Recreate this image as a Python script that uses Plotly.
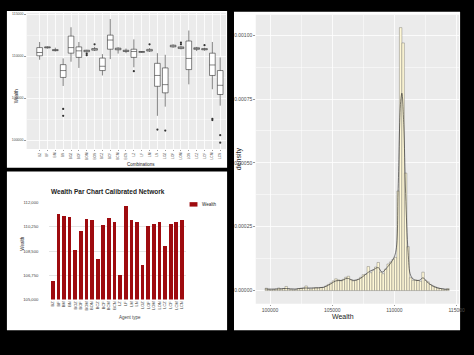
import numpy as np
import plotly.graph_objects as go

W, H = 474, 355

# ---------------- data ----------------
agent_types = ["BZ", "BF", "BM", "BN", "BOZ", "BOF", "BOM", "BON", "BCZ", "BCF", "BCM", "BCN",
               "LZ", "LF", "LM", "LN", "LOZ", "LOF", "LOM", "LON", "LCZ", "LCF", "LCM", "LCN"]
agent_wealth = [106330, 111170, 111020, 110950, 108600, 109950, 110810, 110790, 107930, 110400, 110880, 110640,
                106760, 111760, 110740, 110640, 107520, 110290, 110480, 110640, 108900, 110450, 110600, 110760]

combinations = agent_types
box_upper = [111680, 111150, 111000, 109727, 113437, 111680, 110750, 111100, 110234, 114414, 111050, 110900,
             111992, 110600, 110950, 110352, 110156, 111400, 111200, 113047, 111100, 111000, 111680, 109844]
box_q3 = [111016, 111100, 110780, 108985, 112383, 111094, 110700, 110900, 109766, 112500, 110950, 110700,
          110820, 110550, 110800, 109141, 108594, 111300, 111100, 111797, 111000, 110900, 110352, 108281]
box_median = [110430, 111050, 110700, 108281, 111016, 110625, 110620, 110820, 108789, 111914, 110850, 110620,
              110547, 110500, 110700, 107696, 106602, 111200, 111000, 109727, 110900, 110820, 108945, 106523]
box_q1 = [110039, 110980, 110650, 107461, 110352, 109844, 110520, 110700, 108281, 110820, 110750, 110550,
          109844, 110450, 110600, 106406, 105625, 111100, 110900, 108398, 110800, 110750, 107695, 105430]
box_lower = [109570, 110900, 110550, 106446, 109336, 108594, 110420, 110600, 107695, 109648, 110300, 110350,
             108672, 110400, 110500, 102891, 103984, 111000, 110800, 106641, 110600, 110650, 106055, 104102]
outlier_combo = ["BN", "BN", "BOM", "BOM", "BON", "LZ", "LM", "LN", "LOZ", "LOM", "LOM", "LCF",
                 "LCM", "LCM", "LCN", "LCN"]
outlier_wealth = [103712, 102891, 110313, 110117, 111400, 108203, 111400, 101250, 101133, 111600, 111400, 111300,
                  102539, 102383, 100586, 99688]

hist_bin_width = 200
hist_first_center = 99700
hist_density = [
    0.000009, 0.000004, 0.000003, 0.000004, 0.000006, 0.000010, 0.000005, 0.000008, 0.000016, 0.000006,
    0.000004, 0.000003, 0.000004, 0.000008, 0.000009, 0.000010, 0.000018, 0.000008, 0.000006, 0.000010,
    0.000012, 0.000011, 0.000012, 0.000012, 0.000018, 0.000024, 0.000030, 0.000038, 0.000046, 0.000042,
    0.000038, 0.000044, 0.000052, 0.000056, 0.000042, 0.000038, 0.000040, 0.000044, 0.000052, 0.000062,
    0.000064, 0.000094, 0.000070, 0.000078, 0.000092, 0.000110, 0.000072, 0.000066, 0.000084, 0.000104,
    0.000112, 0.000122, 0.000130, 0.000390, 0.001030, 0.000970, 0.000460, 0.000172, 0.000050, 0.000040,
    0.000042, 0.000040, 0.000036, 0.000072, 0.000040, 0.000034, 0.000024, 0.000018, 0.000014, 0.000010,
    0.000008, 0.000006, 0.000004, 0.000008]
hist_centers = hist_first_center + hist_bin_width * np.arange(len(hist_density))

kde_wealth = [99600, 100500, 101300, 102000, 102800, 103500, 104300, 104800, 105300, 105800, 106200, 106700,
              107200, 107700, 108000, 108400, 108700, 109000, 109400, 109800, 110100, 110300, 110500, 110600,
              110750, 110900, 111100, 111300, 111600, 112000, 112300, 112600, 113000, 113500, 114000, 114400]
kde_density = [0.000006, 0.000006, 0.000008, 0.000006, 0.000010, 0.000010, 0.000013, 0.000024, 0.000038,
               0.000040, 0.000048, 0.000040, 0.000046, 0.000064, 0.000075, 0.000084, 0.000090, 0.000072,
               0.000090, 0.000115, 0.000150, 0.000400, 0.000740, 0.000773, 0.000650, 0.000380, 0.000150,
               0.000060, 0.000042, 0.000040, 0.000050, 0.000035, 0.000020, 0.000010, 0.000006, 0.000004]

# ---------------- helpers ----------------
def px(x):
    return x / W

def py(y):
    return 1 - y / H

GG_BG = "#EBEBEB"
GG_TXT = "#4D4D4D"
FONT = "Liberation Sans, Arial, sans-serif"

fig = go.Figure()

# Box plot (top-left)
fig.add_trace(go.Box(
    x=combinations, q1=box_q1, median=box_median, q3=box_q3,
    lowerfence=box_lower, upperfence=box_upper,
    boxpoints=False, fillcolor="white", line=dict(color="#333333", width=0.6),
    whiskerwidth=0, width=0.72, xaxis="x", yaxis="y", showlegend=False, hoverinfo="skip"))
fig.add_trace(go.Scatter(
    x=outlier_combo, y=outlier_wealth, mode="markers",
    marker=dict(color="#333333", size=2.2), xaxis="x", yaxis="y", showlegend=False))

# Bar chart (bottom-left)
fig.add_trace(go.Bar(
    x=agent_types, y=agent_wealth, marker=dict(color="#9E0B0F", line=dict(width=0)),
    width=0.66, xaxis="x2", yaxis="y2", showlegend=False, name="Wealth"))

# Histogram + density (right)
fig.add_trace(go.Bar(
    x=hist_centers, y=hist_density, width=hist_bin_width,
    marker=dict(color="#FFF8D6", line=dict(color="#555555", width=0.35)),
    xaxis="x3", yaxis="y3", showlegend=False))
fig.add_trace(go.Scatter(
    x=kde_wealth, y=kde_density, mode="lines", line=dict(color="#222222", width=0.6, shape="spline"),
    xaxis="x3", yaxis="y3", showlegend=False))

shapes = [
    dict(type="rect", xref="paper", yref="paper", x0=px(7), x1=px(230), y0=py(167), y1=py(8),
         fillcolor="white", line=dict(width=0), layer="below"),
    dict(type="rect", xref="paper", yref="paper", x0=px(27), x1=px(229), y0=py(148), y1=py(10),
         fillcolor=GG_BG, line=dict(width=0), layer="below"),
    dict(type="rect", xref="paper", yref="paper", x0=px(7), x1=px(230), y0=py(332), y1=py(171),
         fillcolor="white", line=dict(width=0), layer="below"),
    dict(type="rect", xref="paper", yref="paper", x0=px(237), x1=px(466), y0=py(332), y1=py(9),
         fillcolor="white", line=dict(width=0), layer="below"),
    dict(type="rect", xref="paper", yref="paper", x0=px(259), x1=px(465), y0=py(305), y1=py(12),
         fillcolor=GG_BG, line=dict(width=0), layer="below"),
    # bar chart legend swatch
    dict(type="rect", xref="paper", yref="paper", x0=px(192), x1=px(200), y0=py(206.5), y1=py(202),
         fillcolor="#9E0B0F", line=dict(width=0)),
]

annotations = [
    dict(text="Wealth", x=px(12), y=py(85), xref="paper", yref="paper", textangle=-90,
         showarrow=False, font=dict(size=4.5, color="#222", family=FONT)),
    dict(text="Combinations", x=px(127), y=py(164), xref="paper", yref="paper",
         showarrow=False, font=dict(size=4.5, color="#222", family=FONT)),
    dict(text="<b>Wealth Par Chart Calibrated Network</b>", x=px(50), y=py(191), xref="paper", yref="paper",
         xanchor="left", showarrow=False, font=dict(size=6.5, color="#222", family=FONT)),
    dict(text="Wealth", x=px(203), y=py(204.3), xref="paper", yref="paper", xanchor="left",
         showarrow=False, font=dict(size=4.5, color="#222", family=FONT)),
    dict(text="Wealth", x=px(18), y=py(253), xref="paper", yref="paper", textangle=-90,
         showarrow=False, font=dict(size=4.5, color="#222", family=FONT)),
    dict(text="Agent type", x=px(119), y=py(324), xref="paper", yref="paper",
         showarrow=False, font=dict(size=4.5, color="#444", family=FONT)),
    dict(text="Wealth", x=px(361), y=py(324), xref="paper", yref="paper",
         showarrow=False, font=dict(size=7, color="#222", family=FONT)),
    dict(text="density", x=px(241.5), y=py(158), xref="paper", yref="paper", textangle=-90,
         showarrow=False, font=dict(size=7, color="#222", family=FONT)),
]

gg_grid = dict(showgrid=True, gridcolor="white", gridwidth=0.8, zeroline=False,
               ticks="outside", ticklen=1.5, tickcolor="#333333", tickwidth=0.5,
               showline=False)

fig.update_layout(
    width=W, height=H, margin=dict(l=0, r=0, t=0, b=0),
    paper_bgcolor="black", plot_bgcolor="rgba(0,0,0,0)",
    shapes=shapes, annotations=annotations, bargap=0,
    font=dict(family=FONT), hovermode=False,
    xaxis=dict(domain=[px(27), px(229)], anchor="y", type="category", range=[-1.65, 23.75],
               tickangle=-90, tickfont=dict(size=3.2, color=GG_TXT), **gg_grid),
    yaxis=dict(domain=[py(148), py(10)], anchor="x", range=[98950, 115150],
               tickvals=[100000, 105000, 110000, 115000], tickformat="d",
               tickfont=dict(size=3.5, color=GG_TXT),
               minor=dict(tickvals=[102500, 107500, 112500], showgrid=True, gridcolor="white", gridwidth=0.4, ticks=""),
               **gg_grid),
    xaxis2=dict(domain=[px(50), px(188)], anchor="y2", type="category", range=[-0.6, 23.65],
                tickangle=-90, tickfont=dict(size=4, color="#444"), showgrid=False, ticks="",
                showline=False, zeroline=False),
    yaxis2=dict(domain=[py(300.7), py(202.7)], anchor="x2", range=[105000, 112000], dtick=1750,
                tickformat=",d", tickfont=dict(size=4.2, color="#444"), showgrid=True,
                gridcolor="#CCCCCC", gridwidth=0.5, zeroline=False, ticks="", ticklabelstandoff=10),
    xaxis3=dict(domain=[px(259), px(465)], anchor="y3", range=[98850, 115200],
                tickvals=[100000, 105000, 110000, 115000], tickformat="d",
                tickfont=dict(size=5, color=GG_TXT),
                minor=dict(tickvals=[102500, 107500, 112500], showgrid=True, gridcolor="white", gridwidth=0.5, ticks=""),
                **gg_grid),
    yaxis3=dict(domain=[py(305), py(12)], anchor="x3", range=[-0.0000515, 0.00108],
                tickvals=[0, 0.00025, 0.0005, 0.00075, 0.001],
                ticktext=["0.00000", "0.00025", "0.00050", "0.00075", "0.00100"],
                tickfont=dict(size=5, color=GG_TXT),
                minor=dict(tickvals=[0.000125, 0.000375, 0.000625, 0.000875], showgrid=True,
                           gridcolor="white", gridwidth=0.5, ticks=""),
                **gg_grid),
)

fig.write_html("out.html", config={"displayModeBar": False, "staticPlot": True},
               post_script="document.body.style.margin='0';document.body.style.overflow='hidden';document.body.style.background='black';")
